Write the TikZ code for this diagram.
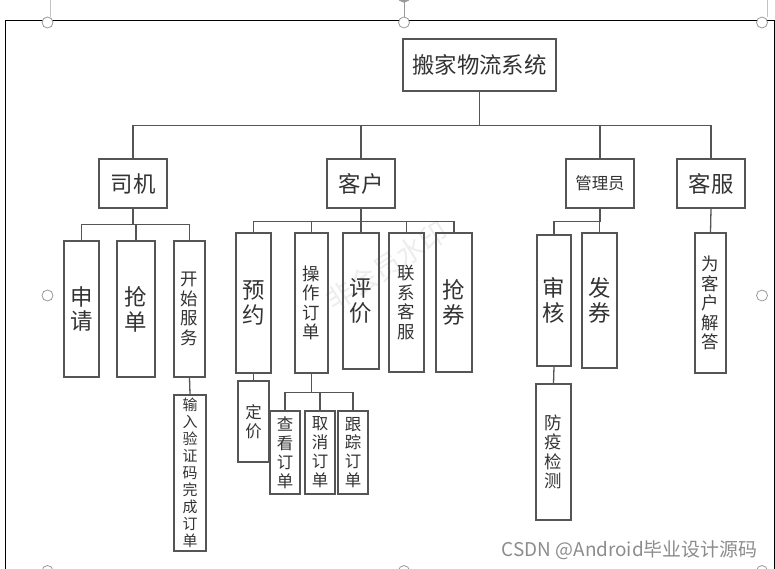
\documentclass[tikz,border=0pt]{standalone}
\usepackage{fontspec}
\newfontfamily\cjk{Noto Sans CJK SC}
\definecolor{boxgray}{HTML}{555555}
\definecolor{txt}{HTML}{333333}
\definecolor{handle}{HTML}{9A9A9A}
\tikzset{
  box/.style={draw=boxgray, line width=1.3bp, inner sep=0pt, align=center, text=txt},
  sz/.style 2 args={minimum width=#1bp, minimum height=#2bp},
  conn/.style={draw=boxgray, line width=1.3bp},
  fbig/.style={font=\cjk\fontsize{22.5}{25}\selectfont},
  fmid/.style={font=\cjk\fontsize{17.5}{19.6}\selectfont},
  fsmall/.style={font=\cjk\fontsize{16.5}{19}\selectfont},
  ftiny/.style={font=\cjk\fontsize{15}{17}\selectfont},
  hdl/.style={draw=handle, fill=white, line width=0.8bp},
}
\begin{document}
\begin{tikzpicture}[x=1bp,y=-1bp]
\useasboundingbox (0,0) rectangle (775,569);
\clip (0,0) rectangle (775,569);
% page / selection frame
\draw[handle!60, line width=0.6bp] (50,0) -- (50,17);
\draw[handle!60, line width=0.6bp] (767,0) -- (767,17);
\draw[black, line width=1bp] (5,569) -- (5,21) -- (774,21) -- (774,569);
\draw[handle, line width=0.8bp] (404,2) -- (404,17);
\draw[handle, line width=2.2bp, fill=white] (404,-4) circle (5.5);
% watermark
\node[rotate=33, text=black!7, font=\cjk\fontsize{28}{30}\selectfont] (wm) at (387,266) {非会员水印};
% root and level 1
\node[box,sz={153}{52},fbig] (root) at (479.5,65) {搬家物流系统};
\node[box,sz={68}{49},fbig] (drv) at (133,183.5) {司机};
\node[box,sz={68}{49},fsmall] (adm) at (600,183.5) {管理员};
\node[box,sz={68}{49},fbig] (cus) at (361,183.5) {客户};
\node[box,sz={68}{49},fbig] (svc) at (711,183.5) {客服};
% driver children
\node[box,sz={35}{136},fbig] (d1) at (81.5,309) {申\\请};
\node[box,sz={38}{136},fbig] (d2) at (136,309) {抢\\单};
\node[box,sz={31}{136},fmid] (d3) at (189.5,309) {开\\始\\服\\务};
\node[box,sz={32}{156},ftiny] (d4) at (190,473) {输\\入\\验\\证\\码\\完\\成\\订\\单};
% customer children
\node[box,sz={35}{140},fbig] (c1) at (253.5,303) {预\\约};
\node[box,sz={33}{140},fmid] (c2) at (311.5,303) {操\\作\\订\\单};
\node[box,sz={36}{136},fbig] (c3) at (361,301) {评\\价};
\node[box,sz={35}{139},fmid] (c4) at (406.5,302.5) {联\\系\\客\\服};
\node[box,sz={36}{139},fbig] (c5) at (454,302.5) {抢\\券};
\node[box,sz={31}{81},fsmall] (c11) at (253.5,421.5) {定\\价};
\node[box,sz={30}{83},fsmall] (c21) at (285,452.5) {查\\看\\订\\单};
\node[box,sz={30}{83},fsmall] (c22) at (320,452.5) {取\\消\\订\\单};
\node[box,sz={30}{83},fsmall] (c23) at (353,452.5) {跟\\踪\\订\\单};
% admin children
\node[box,sz={34}{131},fbig] (a1) at (554,300.5) {审\\核};
\node[box,sz={35}{135},fbig] (a2) at (599.5,300.5) {发\\券};
\node[box,sz={35}{136},fmid] (a11) at (553.5,452) {防\\疫\\检\\测};
% service child
\node[box,sz={31}{140},fmid] (s1) at (710.5,303) {为\\客\\户\\解\\答};
% connectors
\foreach \c in {drv,cus,adm,svc} \draw[conn] (root.south) -- ++(0,34) -| (\c.north);
\foreach \c in {d1,d2,d3} \draw[conn] (drv.south) -- ++(0,16) -| (\c.north);
\draw[conn] (d3.south) -- (d4.north);
\foreach \c in {c1,c2,c3,c4,c5} \draw[conn] (cus.south) -- ++(0,13) -| (\c.north);
\draw[conn] (c1.south) -- (c11.north);
\foreach \c in {c21,c22,c23} \draw[conn] (c2.south) -- ++(0,19) -| (\c.north);
\foreach \c in {a1,a2} \draw[conn] (adm.south) -- ++(0,13) -| (\c.north);
\draw[conn] (a1.south) -- (a11.north);
\draw[conn] (svc.south) -- (s1.north);
% selection handles
\foreach \p in {(47.5,22.5),(404,22.5),(762,22.5),(47.5,295.5),(762,295.5),(47.5,571),(404,571),(762,571)}
  \draw[hdl] \p circle (5.5);
% credit text
\node[anchor=east, text=black!45, font=\cjk\fontsize{19}{20}\selectfont] (credit) at (761,550) {CSDN @Android毕业设计源码};
\end{tikzpicture}
\end{document}
